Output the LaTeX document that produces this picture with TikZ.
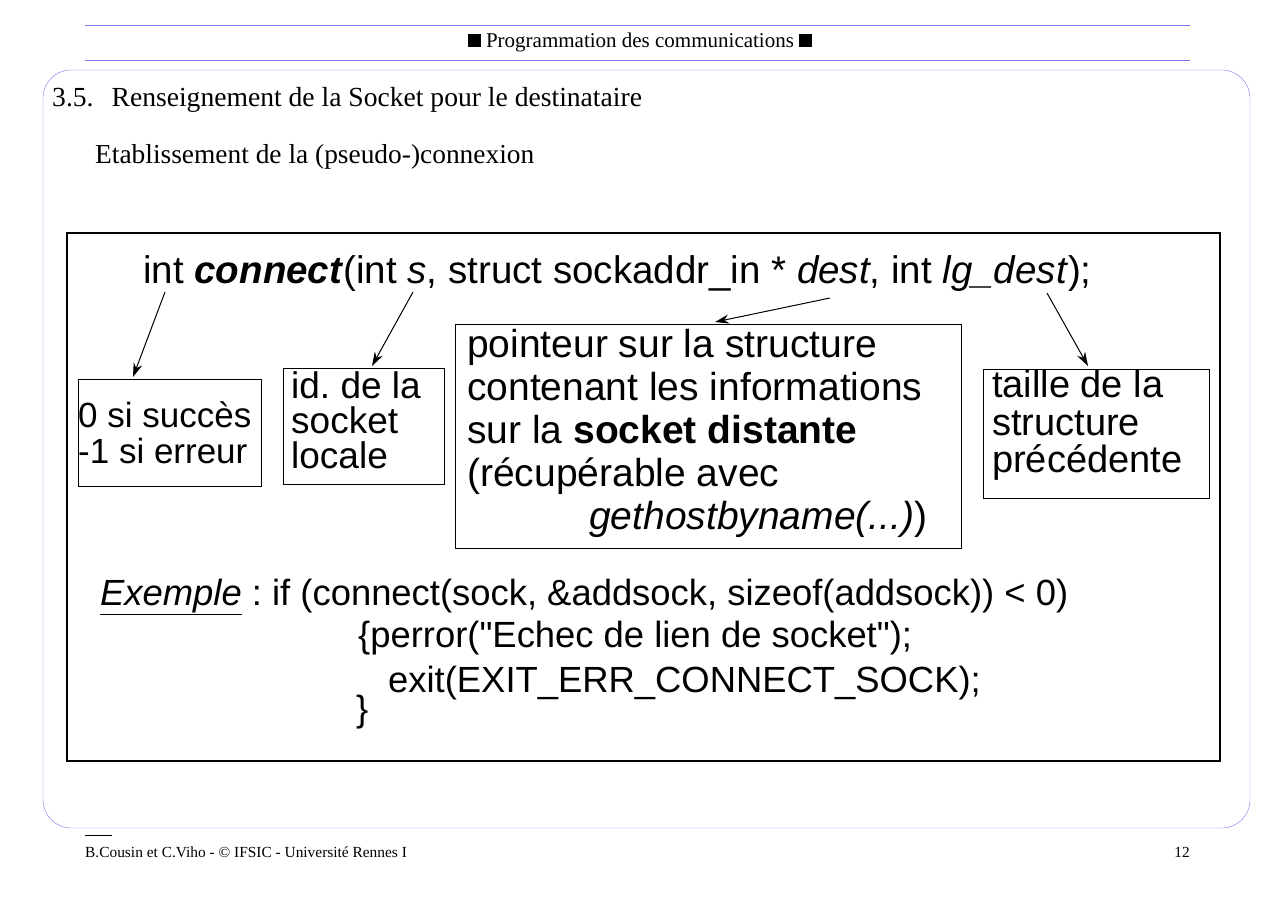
\documentclass[tikz,border=0pt]{standalone}
\usepackage{fontspec}
\setmainfont{Liberation Serif}
\setsansfont{Liberation Sans}
\usetikzlibrary{arrows.meta,positioning}
\definecolor{framec}{RGB}{120,120,235}
\frenchspacing
\begin{document}
\begin{tikzpicture}[x=1pt, y=-1pt, >={Stealth[length=14pt,width=9pt]},
  txt/.style={anchor=base west, inner sep=0pt, font=\sffamily\fontsize{38.5}{42}\selectfont},
  infobox/.style={rectangle, draw, line width=1pt, anchor=north west, inner sep=0pt},
  code/.style={anchor=base west, inner sep=0pt, font=\sffamily\fontsize{36.4}{42}\selectfont}]
  \useasboundingbox (0,0) rectangle (1280,905);

  % header and frame
  \draw[framec] (85,25) -- (1190,25);
  \draw[framec] (85,60) -- (1190,60);
  \node[inner sep=0pt, font=\fontsize{21}{24}\selectfont] (head) at (640,42) {\rule{13pt}{13pt} Programmation des communications \rule{13pt}{13pt}};
  \draw[framec, rounded corners=28pt] (43,70) rectangle (1250,828);
  \node[anchor=base west, inner sep=0pt, font=\fontsize{27.6}{30}\selectfont] (title) at (52,106) {3.5.\hspace{18pt}Renseignement de la Socket pour le destinataire};
  \node[anchor=base west, inner sep=0pt, font=\fontsize{27.4}{30}\selectfont] (sub) at (95,163) {Etablissement de la (pseudo-)connexion};

  % main box
  \draw[line width=1.2pt] (67,233) rectangle (1220,761);
  \node[txt] (proto) at (143,283) {int \textbf{\textit{connect}}(int \textit{s}, struct sockaddr\_in * \textit{dest}, int \textit{lg\_dest});};

  \node[infobox, minimum width=183pt, minimum height=107pt] (ret) at (78,379) {};
  \node[txt, font=\sffamily\fontsize{35}{36}\selectfont, align=left, anchor=west] (rett) at (ret.west) {0 si succès\\-1 si erreur};
  \node[infobox, minimum width=161pt, minimum height=116pt] (sock) at (283,368) {};
  \node[txt, font=\sffamily\fontsize{37}{35}\selectfont, align=left, anchor=north west] (sockt) at (291,371) {id. de la\\socket\\locale};
  \node[infobox, minimum width=506pt, minimum height=224pt] (dest) at (455,324) {};
  \node[txt, font=\sffamily\fontsize{39}{43}\selectfont, align=left, anchor=north west] (destt) at (467,329) {pointeur sur la structure\\contenant les informations\\sur la \textbf{socket distante}\\(récupérable avec\\\hspace{122pt}\textit{gethostbyname(...)})};
  \node[infobox, minimum width=226pt, minimum height=129pt] (lg) at (983,369) {};
  \node[txt, font=\sffamily\fontsize{38}{37.5}\selectfont, align=left, anchor=north west] (lgt) at (992,370) {taille de la\\structure\\précédente};

  \coordinate (a1) at (165,292);
  \coordinate (a2) at (413,292);
  \coordinate (a3) at (830,298);
  \coordinate (a4) at (1047,293);
  \draw[->, line width=1pt] (a1) -- (133,377);
  \draw[->, line width=1pt] (a2) -- (372,366);
  \draw[->, line width=1pt] (a3) -- (715,322);
  \draw[->, line width=1pt] (a4) -- (1088,366);

  % example
  \node[code] (ex1) at (100,605) {\underline{\textit{Exemple}}~: if (connect(sock, \&addsock, sizeof(addsock)) < 0)};
  \node[code] (ex2) at (358,647) {\{perror(\textquotedbl Echec de lien de socket\textquotedbl);};
  \node[code] (ex3) at (388,692) {exit(EXIT\_ERR\_CONNECT\_SOCK);};
  \node[code] (ex4) at (356,721) {\}};

  % footer
  \draw (85,835) -- (112,835);
  \node[anchor=base west, inner sep=0pt, font=\fontsize{15.4}{17}\selectfont] (foot) at (85,857) {B.Cousin et C.Viho - © IFSIC - Université Rennes I};
  \node[anchor=base east, inner sep=0pt, font=\fontsize{15.4}{17}\selectfont] (page) at (1190,857) {12};
\end{tikzpicture}
\end{document}
